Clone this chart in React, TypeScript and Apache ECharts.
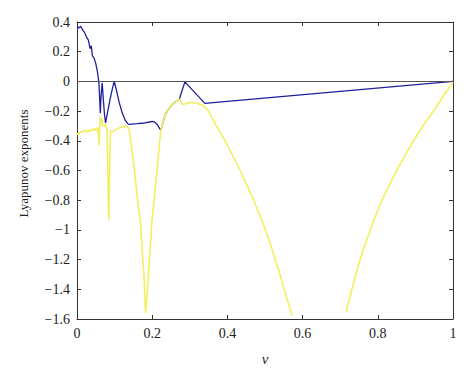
import React, { useEffect, useRef } from "react";
import * as echarts from "echarts";

const xTicks = [0, 0.2, 0.4, 0.6, 0.8, 1];
const yTicks = [0.4, 0.2, 0, -0.2, -0.4, -0.6, -0.8, -1, -1.2, -1.4, -1.6];

const blueNu = [
  0, 0.005, 0.01, 0.015, 0.02, 0.025, 0.03, 0.035, 0.038, 0.041, 0.045, 0.05, 0.054, 0.058, 0.06, 0.062,
  0.064, 0.067, 0.07, 0.073, 0.076, 0.082, 0.088, 0.094, 0.099, 0.105, 0.112, 0.12, 0.128, 0.135, 0.139,
  0.16, 0.18, 0.2, 0.207, 0.213, 0.218, 0.223, 0.235, 0.248, 0.26, 0.272, 0.287, 0.34, 1.0,
];
const blueLE = [
  0.37, 0.36, 0.372, 0.345, 0.33, 0.3, 0.28, 0.22, 0.24, 0.17, 0.16, 0.12, 0.07, 0.0, -0.1, -0.215,
  -0.1, -0.01, -0.12, -0.22, -0.28, -0.2, -0.12, -0.05, 0.0, -0.06, -0.14, -0.21, -0.26, -0.285, -0.29,
  -0.285, -0.28, -0.27, -0.275, -0.29, -0.31, -0.33, -0.22, -0.17, -0.14, -0.12, -0.003, -0.148, 0.0,
];

const yellowNu = [
  0, 0.004, 0.008, 0.012, 0.016, 0.02, 0.024, 0.028, 0.032, 0.036, 0.04, 0.044, 0.048, 0.052, 0.055,
  0.057, 0.059, 0.06, 0.062, 0.064, 0.066, 0.068, 0.072, 0.076, 0.08, 0.0845, 0.089, 0.093, 0.1, 0.11,
  0.12, 0.13, 0.137, 0.143, 0.153, 0.161, 0.169, 0.175, 0.178, 0.182, 0.186, 0.191, 0.1997, 0.207,
  0.213, 0.22, 0.223, 0.235, 0.248, 0.26, 0.272, 0.28, 0.29, 0.3, 0.315, 0.335, 0.35, 0.362, 0.378,
  0.394, 0.414, 0.434, 0.452, 0.47, 0.486, 0.501, 0.515, 0.527, 0.54, 0.551, 0.562, 0.572, 0.64, 0.716,
  0.723, 0.731, 0.742, 0.753, 0.766, 0.78, 0.795, 0.811, 0.83, 0.85, 0.872, 0.895, 0.92, 0.948, 0.974,
  1.0,
];
const yellowLE: (number | null)[] = [
  -0.35, -0.36, -0.34, -0.345, -0.33, -0.335, -0.33, -0.34, -0.33, -0.335, -0.32, -0.33, -0.32, -0.33, -0.31,
  -0.36, -0.43, -0.32, -0.24, -0.28, -0.25, -0.3, -0.3, -0.29, -0.33, -0.93, -0.33, -0.34, -0.33, -0.315,
  -0.305, -0.3, -0.31, -0.4, -0.6, -0.8, -0.95, -1.2, -1.3, -1.56, -1.45, -1.26, -0.93, -0.75,
  -0.6, -0.4, -0.33, -0.22, -0.17, -0.14, -0.12, -0.155, -0.15, -0.14, -0.145, -0.16, -0.2, -0.26, -0.33,
  -0.4, -0.5, -0.6, -0.7, -0.8, -0.9, -1.0, -1.1, -1.2, -1.3, -1.4, -1.49, -1.58, null, -1.55,
  -1.48, -1.4, -1.3, -1.2, -1.1, -1.0, -0.9, -0.8, -0.7, -0.6, -0.5, -0.4, -0.3, -0.2, -0.1,
  -0.005,
];

const FONT = "'Liberation Serif', 'Times New Roman', 'DejaVu Serif', serif";

export default function App() {
  const ref = useRef<HTMLDivElement>(null);
  useEffect(() => {
    if (!ref.current) return;
    const chart = echarts.init(ref.current, undefined, { renderer: "svg" });
    const axisLine = { show: true, onZero: false, lineStyle: { color: "#333", width: 1 } };
    const axisTick = { show: true, inside: true, length: 4, lineStyle: { color: "#333" } };
    const fmt = (v: number) => {
      const r = Math.round(v * 10) / 10;
      if (r === 0) return "0";
      return (r < 0 ? "\u2212" : "") + String(Math.abs(r));
    };
    chart.setOption({
      animation: false,
      backgroundColor: "#fff",
      textStyle: { fontFamily: FONT },
      grid: { left: 77, right: 21, top: 22, bottom: 60, containLabel: false, outerBoundsMode: "none" },
      xAxis: [
        {
          type: "value",
          min: 0,
          max: 1,
          interval: 0.2,
          name: "\u03bd",
          nameLocation: "middle",
          nameGap: 32,
          nameTextStyle: { fontFamily: FONT, fontSize: 15, fontStyle: "italic", color: "#222" },
          axisLine,
          axisTick,
          splitLine: { show: false },
          axisLabel: { fontFamily: FONT, fontSize: 14, color: "#222", margin: 7, formatter: fmt },
        },
        {
          type: "value",
          position: "top",
          min: 0,
          max: 1,
          interval: 0.2,
          axisLine,
          axisTick,
          splitLine: { show: false },
          axisLabel: { show: false },
        },
      ],
      yAxis: [
        {
          type: "value",
          min: -1.6,
          max: 0.4,
          interval: 0.2,
          name: "Lyapunov exponents",
          nameLocation: "middle",
          nameGap: 47,
          nameTextStyle: { fontFamily: FONT, fontSize: 13, color: "#222", padding: [0, 0, 0, 14] },
          axisLine,
          axisTick,
          splitLine: { show: false },
          axisLabel: { fontFamily: FONT, fontSize: 14, color: "#222", margin: 7, formatter: fmt },
        },
        {
          type: "value",
          position: "right",
          min: -1.6,
          max: 0.4,
          interval: 0.2,
          axisLine,
          axisTick,
          splitLine: { show: false },
          axisLabel: { show: false },
        },
      ],
      series: [
        {
          type: "line",
          data: blueNu.map((x, i) => [x, blueLE[i]]),
          showSymbol: false,
          lineStyle: { color: "#1f1f9c", width: 1.3 },
          markLine: {
            silent: true,
            symbol: "none",
            label: { show: false },
            lineStyle: { color: "#555", width: 1, type: "solid" },
            data: [{ yAxis: 0 }],
          },
          z: 2,
        },
        {
          type: "line",
          data: yellowNu.map((x, i) => [x, yellowLE[i]]),
          showSymbol: false,
          connectNulls: false,
          lineStyle: { color: "#f3ef5c", width: 1.6 },
          z: 3,
        },
      ],
    });
    return () => chart.dispose();
  }, []);
  return (
    <div
      ref={ref}
      style={{ position: "fixed", left: 0, top: 0, width: 474, height: 379, background: "#fff" }}
    />
  );
}
